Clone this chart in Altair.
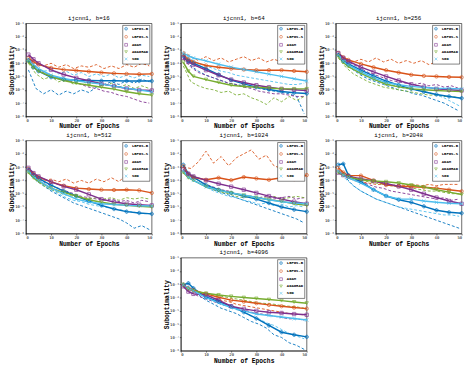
import altair as alt
import pandas as pd

METHODS = ["LBFGS-B", "LBFGS-S", "ADAM", "ADAGRAD", "SGD"]
COLORS = ["#0072BD", "#D95319", "#7E2F8E", "#77AC30", "#4DBEEE"]
SHAPES = ["cross", "circle", "square", "triangle-down", "M-1,-1L1,1M-1,1L1,-1"]
X_TICKS = [0, 10, 20, 30, 40, 50]
Y_TICKS = [1e-1, 1e-2, 1e-3, 1e-4, 1e-5, 1e-6, 1e-7, 1e-8]

EPOCHS_SOLID = [1, 3, 5, 10, 15, 20, 25, 30, 35, 40, 45, 50]
EPOCHS_DASHED = [1, 4, 7, 10, 13, 16, 19, 22, 25, 28, 31, 34, 37, 40, 43, 46, 49]

# values are log10(suboptimality)
SOLID_16 = {
    "LBFGS-B": [-3.8, -4.3, -4.6, -5.05, -5.22, -5.28, -5.3, -5.32, -5.32, -5.33, -5.33, -5.34],
    "LBFGS-S": [-3.6, -3.9, -4.1, -4.35, -4.48, -4.55, -4.62, -4.7, -4.76, -4.8, -4.82, -4.8],
    "ADAM": [-3.35, -3.7, -4.0, -4.5, -4.85, -5.1, -5.32, -5.55, -5.72, -5.9, -6.02, -6.05],
    "ADAGRAD": [-3.9, -4.3, -4.6, -5.0, -5.3, -5.5, -5.65, -5.8, -5.95, -6.15, -6.3, -6.4],
    "SGD": [-3.7, -4.1, -4.4, -4.9, -5.15, -5.32, -5.45, -5.57, -5.72, -5.88, -6.02, -6.15],
}
DASHED_16 = {
    "LBFGS-B": [-4.5, -5.9, -6.3, -6.0, -6.4, -6.1, -6.3, -6.0, -6.2, -5.8, -5.6, -5.4, -5.6, -5.3, -5.5, -5.2, -5.4],
    "LBFGS-S": [-3.5, -3.9, -4.2, -4.0, -4.3, -4.1, -4.4, -4.2, -4.3, -4.1, -4.4, -4.2, -4.4, -4.1, -4.3, -4.0, -4.2],
    "ADAM": [-3.6, -4.3, -4.7, -4.9, -5.1, -5.3, -5.4, -5.6, -5.8, -5.9, -6.1, -6.2, -6.4, -6.5, -6.7, -6.9, -7.0],
    "ADAGRAD": [-4.0, -4.8, -5.2, -5.0, -5.4, -5.2, -5.6, -5.3, -5.6, -5.4, -5.7, -5.5, -5.8, -5.6, -5.9, -5.7, -5.9],
    "SGD": [-3.8, -4.4, -4.6, -4.5, -4.8, -4.6, -4.9, -4.7, -5.0, -4.8, -5.0, -4.8, -5.1, -4.9, -5.1, -4.9, -5.0],
}
SOLID_64 = {
    "LBFGS-B": [-3.46, -3.8, -4.0, -4.4, -4.85, -5.27, -5.55, -5.8, -5.98, -6.12, -6.22, -6.28],
    "LBFGS-S": [-3.35, -3.7, -3.9, -4.17, -4.3, -4.4, -4.47, -4.52, -4.52, -4.52, -4.58, -4.64],
    "ADAM": [-3.58, -3.9, -4.1, -4.52, -4.9, -5.23, -5.45, -5.65, -5.8, -5.93, -6.0, -6.05],
    "ADAGRAD": [-3.93, -4.6, -4.99, -5.23, -5.45, -5.65, -5.75, -5.81, -5.87, -5.93, -5.93, -5.93],
    "SGD": [-3.23, -3.45, -3.6, -3.82, -4.07, -4.29, -4.47, -4.64, -4.82, -4.99, -5.17, -5.34],
}
DASHED_64 = {
    "LBFGS-B": [-3.6, -4.2, -4.6, -4.9, -5.1, -5.3, -5.5, -5.6, -5.7, -5.8, -5.9, -6.0, -6.1, -6.2, -6.3, -6.5, -7.8],
    "LBFGS-S": [-3.1, -3.5, -3.8, -3.5, -3.8, -3.6, -3.9, -3.7, -3.5, -3.8, -3.6, -3.9, -3.7, -3.9, -3.7, -4.0, -3.9],
    "ADAM": [-3.7, -4.3, -4.7, -4.9, -5.1, -5.3, -5.5, -5.6, -5.8, -5.9, -6.1, -6.2, -6.3, -6.3, -6.4, -6.5, -6.5],
    "ADAGRAD": [-4.2, -5.4, -5.7, -5.9, -6.0, -6.2, -6.1, -6.4, -6.3, -6.6, -6.8, -7.1, -6.6, -6.9, -6.5, -6.8, -6.5],
    "SGD": [-3.3, -3.7, -4.0, -4.2, -4.4, -4.6, -4.7, -4.9, -5.0, -5.1, -5.2, -5.3, -5.4, -5.5, -5.6, -5.6, -5.5],
}
SOLID_256 = {
    "LBFGS-B": [-3.35, -3.8, -4.05, -4.52, -4.95, -5.34, -5.65, -5.93, -6.15, -6.35, -6.5, -6.63],
    "LBFGS-S": [-3.23, -3.55, -3.75, -4.05, -4.3, -4.52, -4.7, -4.87, -4.95, -4.99, -5.03, -5.06],
    "ADAM": [-3.23, -3.6, -3.85, -4.29, -4.65, -4.99, -5.3, -5.58, -5.78, -5.93, -6.0, -6.05],
    "ADAGRAD": [-3.46, -3.95, -4.25, -4.76, -5.2, -5.58, -5.78, -5.93, -6.0, -6.05, -6.1, -6.12],
    "SGD": [-3.35, -3.85, -4.15, -4.64, -5.1, -5.46, -5.62, -5.74, -5.82, -5.88, -5.9, -5.93],
}
DASHED_256 = {
    "LBFGS-B": [-3.4, -4.1, -4.5, -4.9, -5.2, -5.4, -5.6, -5.8, -6.0, -6.1, -6.3, -6.4, -6.6, -6.8, -7.0, -7.3, -7.6],
    "LBFGS-S": [-3.3, -3.7, -3.9, -3.7, -3.9, -3.6, -3.9, -3.7, -4.0, -3.8, -4.0, -3.8, -4.1, -3.9, -3.7, -4.0, -3.9],
    "ADAM": [-3.3, -3.8, -4.1, -4.4, -4.7, -4.9, -5.1, -5.3, -5.4, -5.5, -5.6, -5.5, -5.7, -5.6, -5.8, -5.7, -5.9],
    "ADAGRAD": [-3.6, -4.3, -4.8, -5.1, -5.4, -5.6, -5.8, -5.9, -6.0, -6.1, -6.2, -6.3, -6.4, -6.4, -6.5, -6.5, -6.6],
    "SGD": [-3.4, -4.0, -4.5, -4.8, -5.1, -5.3, -5.5, -5.6, -5.8, -5.9, -6.0, -6.1, -6.2, -6.4, -6.6, -6.9, -7.2],
}
SOLID_512 = {
    "LBFGS-B": [-3.17, -3.6, -3.85, -4.35, -4.8, -5.17, -5.55, -5.88, -6.15, -6.35, -6.45, -6.52],
    "LBFGS-S": [-3.12, -3.5, -3.75, -4.11, -4.4, -4.58, -4.65, -4.7, -4.72, -4.7, -4.75, -4.94],
    "ADAM": [-3.05, -3.45, -3.7, -4.11, -4.45, -4.7, -5.05, -5.41, -5.62, -5.76, -5.83, -5.88],
    "ADAGRAD": [-3.41, -3.8, -4.05, -4.58, -4.9, -5.17, -5.45, -5.65, -5.8, -5.88, -5.95, -6.0],
    "SGD": [-3.29, -3.7, -4.0, -4.58, -5.0, -5.41, -5.62, -5.76, -5.82, -5.88, -5.9, -5.93],
}
DASHED_512 = {
    "LBFGS-B": [-3.3, -4.0, -4.4, -4.8, -5.1, -5.4, -5.7, -5.9, -6.1, -6.3, -6.5, -6.7, -6.9, -7.2, -7.6, -7.4, -7.7],
    "LBFGS-S": [-3.2, -3.7, -4.0, -3.9, -4.1, -3.9, -4.2, -4.0, -4.2, -3.9, -4.1, -3.8, -4.1, -3.5, -4.0, -3.8, -4.0],
    "ADAM": [-3.2, -3.8, -4.1, -4.4, -4.6, -4.8, -5.0, -5.2, -5.3, -5.4, -5.5, -5.4, -5.6, -5.5, -5.7, -5.5, -5.6],
    "ADAGRAD": [-3.4, -4.0, -4.4, -4.7, -4.9, -5.1, -5.2, -5.3, -5.4, -5.3, -5.4, -5.3, -5.5, -5.3, -5.4, -5.3, -5.4],
    "SGD": [-3.3, -3.9, -4.3, -4.7, -5.0, -5.3, -5.5, -5.6, -5.8, -5.9, -6.0, -6.1, -6.2, -6.3, -6.4, -6.5, -6.5],
}
SOLID_1024 = {
    "LBFGS-B": [-2.82, -3.5, -3.75, -4.35, -4.7, -4.94, -5.18, -5.41, -5.7, -6.0, -6.2, -6.35],
    "LBFGS-S": [-2.93, -3.55, -3.76, -3.95, -3.8, -3.98, -3.75, -3.85, -3.95, -3.8, -3.9, -3.6],
    "ADAM": [-3.17, -3.5, -3.7, -4.0, -4.25, -4.47, -4.7, -4.94, -5.18, -5.41, -5.6, -5.76],
    "ADAGRAD": [-3.41, -3.8, -4.0, -4.47, -4.75, -4.94, -5.12, -5.29, -5.45, -5.58, -5.75, -5.88],
    "SGD": [-3.29, -3.75, -4.0, -4.47, -4.75, -4.94, -5.1, -5.29, -5.45, -5.6, -5.7, -5.76],
}
DASHED_1024 = {
    "LBFGS-B": [-3.0, -3.8, -4.2, -4.5, -4.7, -4.9, -5.1, -5.3, -5.5, -5.7, -5.9, -6.1, -6.3, -6.5, -6.7, -6.9, -7.2],
    "LBFGS-S": [-3.0, -3.1, -2.6, -1.8, -2.7, -2.2, -2.9, -2.3, -2.0, -1.7, -2.4, -2.1, -2.9, -3.1, -2.8, -3.0, -2.7],
    "ADAM": [-3.2, -3.7, -4.0, -4.3, -4.5, -4.7, -4.8, -5.0, -5.1, -5.2, -5.3, -5.2, -5.4, -5.3, -5.2, -5.4, -5.3],
    "ADAGRAD": [-3.4, -3.9, -4.2, -4.5, -4.7, -4.9, -5.0, -5.2, -5.3, -5.2, -5.4, -5.3, -5.2, -5.4, -5.3, -5.2, -5.3],
    "SGD": [-3.3, -3.9, -4.2, -4.5, -4.8, -5.0, -5.2, -5.3, -5.5, -5.6, -5.8, -5.7, -5.9, -5.8, -6.0, -5.9, -6.0],
}
SOLID_2048 = {
    "LBFGS-B": [-2.82, -2.75, -3.6, -4.11, -4.7, -5.17, -5.45, -5.65, -5.95, -6.24, -6.4, -6.47],
    "LBFGS-S": [-3.05, -3.4, -3.64, -3.64, -4.0, -4.35, -4.42, -4.47, -4.52, -4.58, -4.7, -4.82],
    "ADAM": [-3.41, -3.6, -3.7, -3.88, -4.05, -4.23, -4.45, -4.7, -5.0, -5.29, -5.55, -5.76],
    "ADAGRAD": [-3.41, -3.6, -3.75, -3.95, -4.05, -4.1, -4.2, -4.35, -4.5, -4.7, -4.88, -5.06],
    "SGD": [-3.3, -3.6, -3.8, -4.2, -4.7, -5.17, -5.4, -5.41, -5.55, -5.65, -5.72, -5.76],
}
DASHED_2048 = {
    "LBFGS-B": [-3.0, -3.8, -4.4, -4.8, -5.1, -5.4, -5.6, -5.8, -6.0, -6.2, -6.4, -6.6, -6.8, -7.0, -7.2, -7.4, -7.6],
    "LBFGS-S": [-3.2, -3.7, -4.0, -4.1, -4.2, -4.3, -4.3, -4.4, -4.3, -4.4, -4.3, -4.4, -4.3, -4.4, -4.3, -4.3, -4.3],
    "ADAM": [-3.4, -3.7, -3.9, -4.1, -4.3, -4.5, -4.6, -4.8, -4.9, -5.0, -5.1, -5.2, -5.3, -5.4, -5.3, -5.5, -5.4],
    "ADAGRAD": [-3.4, -3.7, -3.9, -4.0, -4.1, -4.2, -4.3, -4.4, -4.5, -4.5, -4.6, -4.7, -4.8, -4.8, -4.9, -5.0, -5.0],
    "SGD": [-3.3, -3.9, -4.4, -4.8, -5.1, -5.4, -5.6, -5.8, -6.0, -6.1, -6.2, -6.3, -6.4, -6.5, -6.6, -6.6, -6.7],
}
SOLID_4096 = {
    "LBFGS-B": [-3.03, -2.92, -3.3, -3.96, -4.3, -4.65, -5.1, -5.57, -6.1, -6.61, -6.8, -6.96],
    "LBFGS-S": [-3.03, -3.3, -3.45, -3.72, -3.98, -4.19, -4.3, -4.42, -4.55, -4.65, -4.75, -4.83],
    "ADAM": [-3.15, -3.55, -3.72, -3.8, -4.2, -4.65, -4.85, -5.0, -5.1, -5.16, -5.24, -5.3],
    "ADAGRAD": [-3.03, -3.35, -3.5, -3.68, -3.8, -3.91, -4.0, -4.07, -4.15, -4.23, -4.33, -4.42],
    "SGD": [-3.03, -3.3, -3.5, -4.0, -4.4, -4.76, -5.0, -5.23, -5.35, -5.46, -5.58, -5.69],
}
DASHED_4096 = {
    "LBFGS-B": [-3.0, -3.3, -3.8, -4.2, -4.5, -4.8, -5.0, -5.2, -5.5, -5.8, -6.0, -6.3, -6.8, -7.0, -7.4, -7.6, -7.9],
    "LBFGS-S": [-3.1, -3.4, -3.6, -3.8, -4.0, -4.2, -4.3, -4.5, -4.6, -4.7, -4.8, -4.9, -5.0, -5.1, -5.2, -5.25, -5.3],
    "ADAM": [-3.2, -3.6, -3.9, -4.1, -4.3, -4.5, -4.7, -4.8, -4.9, -5.1, -5.2, -5.3, -5.4, -5.5, -5.6, -5.6, -5.7],
    "ADAGRAD": [-3.1, -3.4, -3.6, -3.7, -3.8, -3.9, -4.0, -4.1, -4.2, -4.3, -4.4, -4.45, -4.5, -4.6, -4.65, -4.7, -4.8],
    "SGD": [-3.0, -3.3, -3.6, -3.9, -4.2, -4.5, -4.7, -4.9, -5.1, -5.4, -5.6, -5.9, -6.1, -6.4, -6.7, -6.9, -7.1],
}

W, H = 130, 96
MONO = "Liberation Mono"
SUP = "['\u2070','\u207b\u00b9','\u207b\u00b2','\u207b\u00b3','\u207b\u2074','\u207b\u2075','\u207b\u2076','\u207b\u2077','\u207b\u2078']"
Y_LABEL_EXPR = "'10' + " + SUP + "[round(-log(datum.value)/LN10)]"


def panel(title, solid, dashed):
    rows = []
    for m in METHODS:
        for e, v in zip(EPOCHS_SOLID, solid[m]):
            rows.append({"epoch": e, "value": 10 ** v, "method": m, "kind": "solid"})
        for e, v in zip(EPOCHS_DASHED, dashed[m]):
            rows.append({"epoch": e, "value": 10 ** v, "method": m, "kind": "dashed"})
    df = pd.DataFrame(rows)

    x = alt.X("epoch:Q", scale=alt.Scale(domain=[0, 50], nice=False),
              axis=alt.Axis(values=X_TICKS, title="Number of Epochs"))
    y = alt.Y("value:Q", scale=alt.Scale(type="log", domain=[1e-8, 1e-1], nice=False),
              axis=alt.Axis(values=Y_TICKS, labelExpr=Y_LABEL_EXPR, title="Suboptimality",
                            minExtent=11, maxExtent=11))
    leg = alt.Legend(title=None, orient="top-right")
    color = alt.Color("method:N", scale=alt.Scale(domain=METHODS, range=COLORS), legend=leg)
    shape = alt.Shape("method:N", scale=alt.Scale(domain=METHODS, range=SHAPES), legend=leg)

    base = alt.Chart(df)
    dashed_l = base.transform_filter("datum.kind == 'dashed'").mark_line(
        strokeDash=[3, 2], strokeWidth=0.9).encode(x=x, y=y, color=color, detail="method:N")
    solid_l = base.transform_filter("datum.kind == 'solid'").mark_line(
        strokeWidth=1.5).encode(x=x, y=y, color=color)
    pts = base.transform_filter("datum.kind == 'solid'").mark_point(
        size=12, filled=False, strokeWidth=1).encode(x=x, y=y, color=color, shape=shape)
    return alt.layer(dashed_l, solid_l, pts).properties(
        width=W, height=H,
        title=alt.Title(title, font=MONO, fontSize=6, fontWeight="normal", offset=1))


p1 = panel("ijcnn1, b=16", SOLID_16, DASHED_16)
p2 = panel("ijcnn1, b=64", SOLID_64, DASHED_64)
p3 = panel("ijcnn1, b=256", SOLID_256, DASHED_256)
p4 = panel("ijcnn1, b=512", SOLID_512, DASHED_512)
p5 = panel("ijcnn1, b=1024", SOLID_1024, DASHED_1024)
p6 = panel("ijcnn1, b=2048", SOLID_2048, DASHED_2048)
p7 = panel("ijcnn1, b=4096", SOLID_4096, DASHED_4096)

row1 = alt.hconcat(p1, p2, p3, spacing=6).resolve_legend(color="independent", shape="independent")
row2 = alt.hconcat(p4, p5, p6, spacing=6).resolve_legend(color="independent", shape="independent")

chart = alt.vconcat(row1, row2, p7, spacing=1, center=True).resolve_legend(
    color="independent", shape="independent"
).properties(padding=0).configure_view(
    stroke="black", strokeWidth=0.6
).configure_axis(
    labelFont="DejaVu Sans Mono", labelFontSize=4, labelColor="black",
    titleFont=MONO, titleFontSize=6.5, titleFontWeight="bold", titleColor="black",
    tickSize=1.5, tickWidth=0.5, tickColor="black", labelPadding=0.5, titlePadding=1,
    domainColor="black", domainWidth=0.6, grid=False
).configure_legend(
    offset=2, padding=1.5, strokeColor="black", fillColor="white", strokeWidth=0.5,
    labelFont=MONO, labelFontSize=4, labelFontWeight="bold", symbolSize=8,
    rowPadding=0.3, symbolStrokeWidth=0.8, cornerRadius=0
)

chart.save("out.html", embed_options={"renderer": "svg", "actions": False})
